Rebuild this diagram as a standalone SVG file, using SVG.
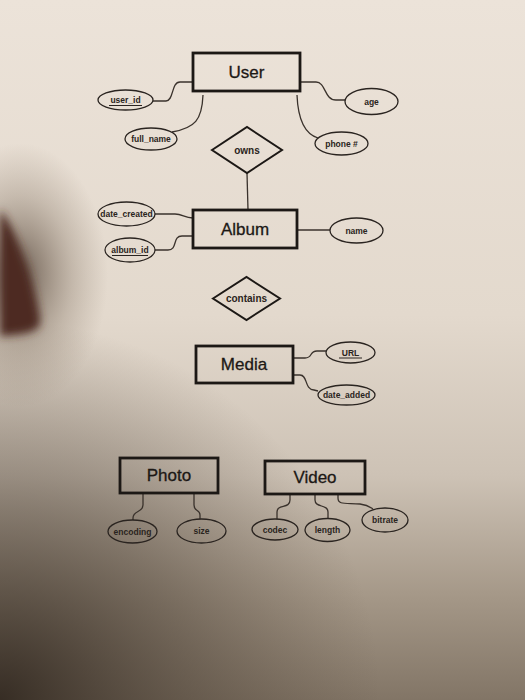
<svg xmlns="http://www.w3.org/2000/svg" width="525" height="700" viewBox="0 0 525 700">
<defs>
<linearGradient id="paper" x1="0" y1="0" x2="0" y2="1">
<stop offset="0" stop-color="#ece3d9"/>
<stop offset="0.45" stop-color="#e3d9cd"/>
<stop offset="0.68" stop-color="#cdc2b5"/>
<stop offset="0.85" stop-color="#a59888"/>
<stop offset="1" stop-color="#827566"/>
</linearGradient>
<radialGradient id="corner" cx="0" cy="700" r="380" gradientUnits="userSpaceOnUse">
<stop offset="0" stop-color="#2e251d" stop-opacity="0.9"/>
<stop offset="0.5" stop-color="#4a3f34" stop-opacity="0.5"/>
<stop offset="1" stop-color="#5a4d40" stop-opacity="0"/>
</radialGradient>
<radialGradient id="shade" cx="20" cy="275" r="110" gradientUnits="userSpaceOnUse" gradientTransform="translate(20 275) scale(0.8 1.2) translate(-20 -275)">
<stop offset="0" stop-color="#4e3e32" stop-opacity="0.8"/>
<stop offset="0.6" stop-color="#7a6a5a" stop-opacity="0.3"/>
<stop offset="1" stop-color="#8a7a6a" stop-opacity="0"/>
</radialGradient>
<filter id="blur" x="-50%" y="-50%" width="200%" height="200%"><feGaussianBlur stdDeviation="4"/></filter>
<style>
.ent{fill:none;stroke:#1c1815;stroke-width:2.8}
.rel{fill:none;stroke:#1c1815;stroke-width:2}
.att{fill:none;stroke:#2a2420;stroke-width:1.3}
.con{fill:none;stroke:#3a322c;stroke-width:1.3}
.et{font-family:"Liberation Sans",Arial,sans-serif;font-size:17px;fill:#1c1815;stroke:#1c1815;stroke-width:0.3;text-anchor:middle}
.rt{font-family:"Liberation Sans",Arial,sans-serif;font-size:10px;font-weight:bold;fill:#2a2420;text-anchor:middle}
.at{font-family:"Liberation Sans",Arial,sans-serif;font-size:8.5px;font-weight:bold;fill:#2a2420;text-anchor:middle}
.ul{stroke:#2a2420;stroke-width:1}
</style>
</defs>
<rect width="525" height="700" fill="url(#paper)"/>
<rect width="525" height="700" fill="url(#corner)"/>
<rect width="525" height="700" fill="url(#shade)"/>
<path d="M0,210 C16,228 34,280 40,318 C42,332 28,334 0,336 Z" fill="#4e2a22" filter="url(#blur)"/>

<g id="connectors">
<path class="con" d="M153,101 L166,101 C174,101 171,82 180,82 L193,82"/>
<path class="con" d="M203,95 C202,120 195,128 172,132"/>
<path class="con" d="M300,82 L316,82 C326,82 324,100 336,100 L345,100"/>
<path class="con" d="M297,95 C298,120 305,134 318,138"/>
<path class="con" d="M247,173 L248,210"/>
<path class="con" d="M155,214 L175,214 C183,214 184,218 193,218"/>
<path class="con" d="M155,250 L168,250 C178,250 172,236 182,236 L193,236"/>
<path class="con" d="M297,230 L330,230"/>
<path class="con" d="M293,358 L305,358 C313,358 309,351 317,351 L326,351"/>
<path class="con" d="M293,375 L300,375 C308,375 304,389 314,390 L318,391"/>
<path class="con" d="M143,493 L143,505 C143,513 133,510 133,518 L133,520"/>
<path class="con" d="M194,493 L194,505 C194,512 200,509 200,515 L200,519"/>
<path class="con" d="M290,494 L290,500 C290,509 277,504 277,512 L277,519"/>
<path class="con" d="M315,494 L315,500 C315,508 328,504 328,512 L328,518.5"/>
<path class="con" d="M338,494 L338,498 C338,505 345,503 360,504 C368,505 370,507 373,509"/>
</g>

<g id="User"><rect class="ent" x="193" y="53" width="107" height="38"/><text class="et" x="246.5" y="78">User</text></g>
<g id="user_id"><ellipse class="att" cx="125.5" cy="100" rx="27.5" ry="10"/><text class="at" x="125.5" y="103">user_id</text><line class="ul" x1="109" y1="105.5" x2="142" y2="105.5"/></g>
<g id="full_name"><ellipse class="att" cx="151" cy="139" rx="26" ry="11"/><text class="at" x="151" y="142">full_name</text></g>
<g id="age"><ellipse class="att" cx="371.5" cy="101.5" rx="26.5" ry="13"/><text class="at" x="371.5" y="104.5">age</text></g>
<g id="phone"><ellipse class="att" cx="341.5" cy="143.5" rx="26.5" ry="11.5"/><text class="at" x="341.5" y="146.5">phone #</text></g>
<g id="owns"><polygon class="rel" points="212,150 247,127 282,150 247,173"/><text class="rt" x="247" y="153.5">owns</text></g>

<g id="Album"><rect class="ent" x="193" y="210" width="104" height="38"/><text class="et" x="245" y="235">Album</text></g>
<g id="date_created"><ellipse class="att" cx="126.5" cy="214" rx="28.5" ry="12"/><text class="at" x="126.5" y="217">date_created</text></g>
<g id="album_id"><ellipse class="att" cx="130" cy="250" rx="25" ry="12"/><text class="at" x="130" y="253">album_id</text><line class="ul" x1="112" y1="255.5" x2="148" y2="255.5"/></g>
<g id="name"><ellipse class="att" cx="356.5" cy="230.5" rx="26.5" ry="12.5"/><text class="at" x="356.5" y="233.5">name</text></g>
<g id="contains"><polygon class="rel" points="213,298.5 246.5,277 280,298.5 246.5,320"/><text class="rt" x="246.5" y="302">contains</text></g>

<g id="Media"><rect class="ent" x="196" y="346" width="97" height="37"/><text class="et" x="244" y="370">Media</text></g>
<g id="URL"><ellipse class="att" cx="350.5" cy="352.5" rx="24.5" ry="10.5"/><text class="at" x="350.5" y="355.5">URL</text><line class="ul" x1="339" y1="358" x2="362" y2="358"/></g>
<g id="date_added"><ellipse class="att" cx="346.5" cy="395" rx="28.5" ry="10"/><text class="at" x="346.5" y="398">date_added</text></g>

<g id="Photo"><rect class="ent" x="120" y="458" width="98" height="35"/><text class="et" x="169" y="481">Photo</text></g>
<g id="encoding"><ellipse class="att" cx="132.5" cy="531.5" rx="24.5" ry="11.5"/><text class="at" x="132.5" y="534.5">encoding</text></g>
<g id="size"><ellipse class="att" cx="201.5" cy="531" rx="24.5" ry="12"/><text class="at" x="201.5" y="534">size</text></g>
<g id="Video"><rect class="ent" x="265" y="461" width="100" height="33"/><text class="et" x="315" y="483">Video</text></g>
<g id="codec"><ellipse class="att" cx="275" cy="529.5" rx="23" ry="10.5"/><text class="at" x="275" y="532.5">codec</text></g>
<g id="length"><ellipse class="att" cx="327.5" cy="530" rx="22.5" ry="11.5"/><text class="at" x="327.5" y="533">length</text></g>
<g id="bitrate"><ellipse class="att" cx="385" cy="520" rx="23" ry="12"/><text class="at" x="385" y="523">bitrate</text></g>
</svg>
